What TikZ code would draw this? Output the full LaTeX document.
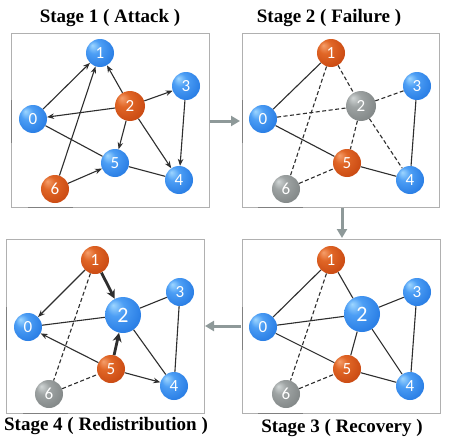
\documentclass[tikz,border=0pt]{standalone}
\usepackage{fontspec}
\setmainfont{Liberation Serif}
\newfontfamily\numfont{Carlito}
\usetikzlibrary{arrows.meta}
\pgfdeclareradialshading{bball}{\pgfpoint{-14bp}{14bp}}{rgb(0bp)=(0.62,0.84,1); rgb(12bp)=(0.30,0.62,0.96); rgb(30bp)=(0.17,0.50,0.90); rgb(50bp)=(0.12,0.40,0.80)}
\pgfdeclareradialshading{oball}{\pgfpoint{-14bp}{14bp}}{rgb(0bp)=(0.96,0.62,0.42); rgb(12bp)=(0.88,0.40,0.15); rgb(30bp)=(0.80,0.30,0.08); rgb(50bp)=(0.66,0.22,0.05)}
\pgfdeclareradialshading{gball}{\pgfpoint{-14bp}{14bp}}{rgb(0bp)=(0.82,0.84,0.84); rgb(12bp)=(0.62,0.64,0.64); rgb(30bp)=(0.52,0.54,0.54); rgb(50bp)=(0.40,0.42,0.42)}
\definecolor{edgec}{HTML}{2E2E2E}
\definecolor{framec}{HTML}{B0B0B0}
\definecolor{flowc}{HTML}{8E9999}
\definecolor{markc}{HTML}{808080}
\tikzset{
  nd/.style={circle, minimum size=28pt, inner sep=0pt, text=white, font=\numfont\fontsize{17}{17}\selectfont},
  nb/.style={nd, shade, shading=bball},
  no/.style={nd, shade, shading=oball},
  ng/.style={nd, shade, shading=gball},
  bignode/.style={minimum size=36pt, font=\numfont\fontsize{22}{22}\selectfont},
  ed/.style={draw=edgec, line width=1.1pt},
  dsh/.style={ed, dash pattern=on 4pt off 2.5pt},
  arr/.style={ed, -{Stealth[length=7pt,width=5.5pt]}},
  thick arr/.style={draw=edgec, line width=2.8pt, -{Stealth[length=9pt,width=9pt]}},
  panel/.style={draw=framec, line width=0.9pt, fill=white},
  edgetick/.style={draw=markc, line width=1pt},
  flow/.style={draw=flowc, line width=3pt, -{Triangle[length=9pt,width=10pt]}},
  title/.style={font=\bfseries\fontsize{19}{19}\selectfont, anchor=base}
}
\begin{document}
\begin{tikzpicture}[x=1pt,y=-1pt]
\useasboundingbox (0,0) rectangle (474,447);
% panels
\draw[panel] (11,33) rectangle (209,207);
\draw[panel] (242,33) rectangle (439,207);
\draw[panel] (242,239) rectangle (440,413);
\draw[panel] (6,239) rectangle (204,413);
% ticks
\draw[edgetick] (11,100) -- (11,143); \draw[edgetick] (28,207) -- (73,207);
\draw[edgetick] (242,100) -- (242,143); \draw[edgetick] (258,207) -- (303,207);
\draw[edgetick] (242,307) -- (242,350); \draw[edgetick] (258,413) -- (303,413);
\draw[edgetick] (6,307) -- (6,350); \draw[edgetick] (23,413) -- (68,413);
% titles
\node[title] (t1) at (110,23) {Stage 1 ( Attack )};
\node[title] (t2) at (329,23) {Stage 2 ( Failure )};
\node[title] (t3) at (342,432) {Stage 3 ( Recovery )};
\node[title] (t4) at (106,430) {Stage 4 ( Redistribution )};
% flow arrows
\coordinate (f1s) at (210,121); \coordinate (f1e) at (240,121);
\coordinate (f2s) at (342,208); \coordinate (f2e) at (342,238);
\coordinate (f3s) at (241,326); \coordinate (f3e) at (205,326);
\draw[flow] (f1s) -- (f1e);
\draw[flow] (f2s) -- (f2e);
\draw[flow] (f3s) -- (f3e);
% ---------- Stage 1
\node[nb] (a1) at (100,53) {1};
\node[nb] (a3) at (186,86) {3};
\node[no, minimum size=30pt] (a2) at (130,106) {2};
\node[nb] (a0) at (33,119) {0};
\node[nb] (a5) at (115,163) {5};
\node[nb] (a4) at (179,180) {4};
\node[no] (a6) at (55,189) {6};
\draw[arr] (a0) -- (a1);
\draw[arr] (a2) -- (a1);
\draw[arr] (a2) -- (a3);
\draw[arr] (a2) -- (a0);
\draw[arr] (a2) -- (a5);
\draw[arr] (a2) -- (a4);
\draw[arr] (a3) -- (a4);
\draw[ed] (a0) -- (a5);
\draw[ed] (a5) -- (a4);
\draw[arr] (a6) -- (a1);
\draw[arr] (a6) -- (a5);
% ---------- Stage 2
\node[no] (b1) at (331,53) {1};
\node[nb] (b3) at (417,86) {3};
\node[ng, minimum size=30pt] (b2) at (361,106) {2};
\node[nb] (b0) at (263,119) {0};
\node[no] (b5) at (347,163) {5};
\node[nb] (b4) at (410,180) {4};
\node[ng] (b6) at (286,189) {6};
\draw[ed] (b0) -- (b1);
\draw[dsh] (b1) -- (b2);
\draw[dsh] (b1) -- (b6);
\draw[dsh] (b0) -- (b2);
\draw[dsh] (b2) -- (b3);
\draw[dsh] (b2) -- (b5);
\draw[dsh] (b2) -- (b4);
\draw[ed] (b3) -- (b4);
\draw[ed] (b0) -- (b5);
\draw[ed] (b5) -- (b4);
\draw[dsh] (b6) -- (b5);
% ---------- Stage 3
\node[no] (c1) at (331,260) {1};
\node[nb, bignode] (c2) at (362,314) {2};
\node[nb] (c3) at (417,292) {3};
\node[nb] (c0) at (263,327) {0};
\node[no] (c5) at (347,369) {5};
\node[nb] (c4) at (410,386) {4};
\node[ng] (c6) at (286,394) {6};
\draw[ed] (c0) -- (c1);
\draw[ed] (c1) -- (c2);
\draw[ed] (c0) -- (c2);
\draw[ed] (c2) -- (c3);
\draw[ed] (c3) -- (c4);
\draw[ed] (c2) -- (c5);
\draw[ed] (c2) -- (c4);
\draw[ed] (c0) -- (c5);
\draw[ed] (c5) -- (c4);
\draw[dsh] (c1) -- (c6);
\draw[dsh] (c6) -- (c5);
% ---------- Stage 4
\node[no] (d1) at (95,260) {1};
\node[nb, bignode] (d2) at (123,315) {2};
\node[nb] (d3) at (180,292) {3};
\node[nb] (d0) at (28,327) {0};
\node[no] (d5) at (111,369) {5};
\node[nb] (d4) at (174,386) {4};
\node[ng] (d6) at (49,394) {6};
\draw[arr] (d1) -- (d0);
\draw[thick arr] (d1) -- (d2);
\draw[ed] (d2) -- (d0);
\draw[ed] (d2) -- (d3);
\draw[ed] (d3) -- (d4);
\draw[ed] (d2) -- (d4);
\draw[arr] (d5) -- (d0);
\draw[thick arr] (d5) -- (d2);
\draw[arr] (d5) -- (d4);
\draw[dsh] (d1) -- (d6);
\draw[dsh] (d6) -- (d5);
\end{tikzpicture}
\end{document}
